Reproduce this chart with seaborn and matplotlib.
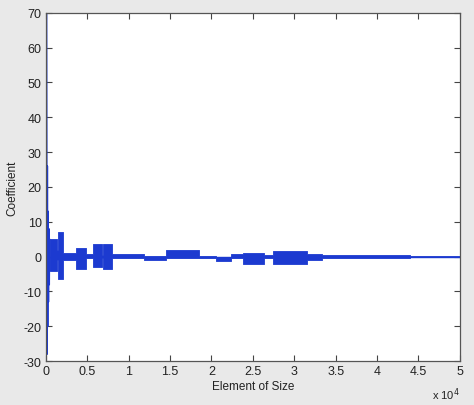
import numpy as np
import pandas as pd
import matplotlib
matplotlib.use("Agg")
import matplotlib.pyplot as plt
import seaborn as sns

# ---- data ----
# initial spike (element index, coefficient)
spike_x = [60, 110, 150, 190, 230, 280, 330, 380, 420, 460]
spike_y = [70, -28, 26, -20, 13, -13, 8, -8, 5, -4]

# blocky oscillation bands: start, end, upper envelope, lower envelope
band_start = [460, 1300, 1500, 2100, 3600, 4800, 5700, 6800, 6900, 8000, 11800, 14500, 18500, 20500, 22300, 23800, 26300, 27400, 31500, 33300, 44000]
band_end   = [1300, 1500, 2100, 3600, 4800, 5700, 6800, 6900, 8000, 11800, 14500, 18500, 20500, 22300, 23800, 26300, 27400, 31500, 33300, 44000, 50000]
band_hi    = [5, 2, 7, 1, 2.5, 0.7, 3.5, 0.5, 3.5, 0.8, 0.3, 1.8, 0.3, 0.0, 0.8, 1.0, 0.5, 1.5, 0.8, 0.4, 0.12]
band_lo    = [-4, -1, -6.5, -1, -3.5, -0.5, -3, -0.5, -3.5, -0.5, -1.0, -0.3, -0.3, -1.2, -0.3, -2.0, -0.5, -2.0, -1.0, -0.4, -0.12]

x_ticks = [0, 0.5, 1, 1.5, 2, 2.5, 3, 3.5, 4, 4.5, 5]
y_ticks = [-30, -20, -10, 0, 10, 20, 30, 40, 50, 60, 70]

line_color = "#1c3ad0"

sns.set_theme(style="white")
plt.rcParams["font.family"] = ["Liberation Sans", "DejaVu Sans"]

fig = plt.figure(figsize=(4.74, 4.06), dpi=100, facecolor="#e9e9e9")
ax = fig.add_axes([0.097, 0.108, 0.873, 0.858])
ax.set_facecolor("white")

# bands
bx, bhi, blo = [], [], []
for s, e, h, l in zip(band_start, band_end, band_hi, band_lo):
    bx += [s, e]
    bhi += [h, h]
    blo += [l, l]
ax.fill_between(bx, blo, bhi, color=line_color, linewidth=0.6, edgecolor=line_color)

# baseline at zero
base = pd.DataFrame({"x": [0, 50000], "y": [0, 0]})
sns.lineplot(data=base, x="x", y="y", ax=ax, color=line_color, linewidth=1.0,
             sort=False, estimator=None)

# spike
sp = pd.DataFrame({"x": spike_x, "y": spike_y})
sns.lineplot(data=sp, x="x", y="y", ax=ax, color=line_color, linewidth=1.3,
             sort=False, estimator=None)

ax.set_xlim(0, 50000)
ax.set_ylim(-30, 70)
ax.set_xticks([v * 1e4 for v in x_ticks])
ax.set_xticklabels([("%g" % v) for v in x_ticks])
ax.set_yticks(y_ticks)
ax.set_yticklabels([str(v) for v in y_ticks])

ax.tick_params(direction="in", length=4, width=0.8, colors="#444444",
               labelcolor="#222222", labelsize=9, top=True, right=True,
               bottom=True, left=True, pad=3)
for sp_ in ax.spines.values():
    sp_.set_color("#555555")
    sp_.set_linewidth(0.9)

ax.set_xlabel("Element of Size", fontsize=8.5, color="#222222", labelpad=2)
ax.set_ylabel("Coefficient", fontsize=8.5, color="#222222", labelpad=4)
ax.text(1.0, -0.07, r"x 10$^4$", transform=ax.transAxes, ha="right", va="top",
        fontsize=8, color="#222222")

fig.savefig("out.png", dpi=100, facecolor=fig.get_facecolor())
